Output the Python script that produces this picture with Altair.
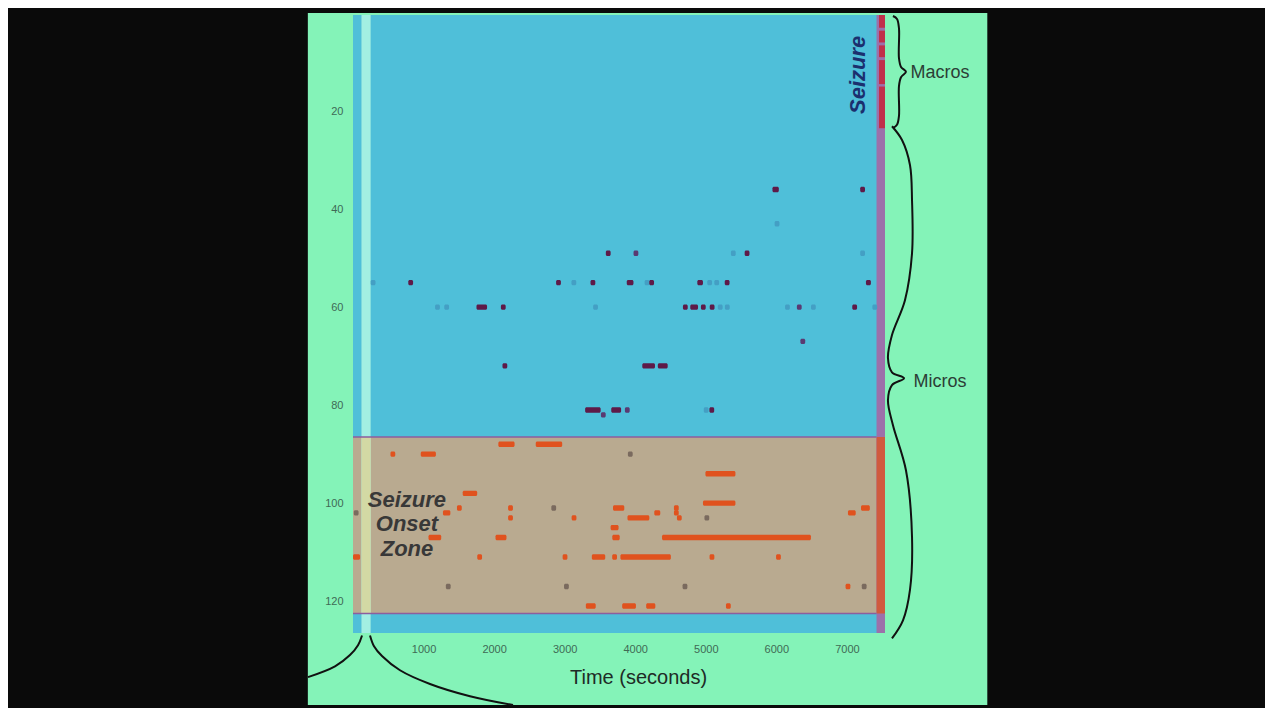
import altair as alt
import pandas as pd

# ---------------- axes ----------------
x_ticks = [1000, 2000, 3000, 4000, 5000, 6000, 7000]
y_ticks = [20, 40, 60, 80, 100, 120]
x_domain = [0, 7540]
y_domain = [0.4, 126.5]

# ---------------- events (channel, start s, end s, kind) ----------------
ev_ch = [
    36, 36, 43,
    49, 49, 49, 49, 49,
    55, 55, 55, 55, 55, 55, 55, 55, 55, 55, 55, 55, 55,
    60, 60, 60, 60, 60, 60, 60, 60, 60, 60, 60, 60, 60, 60, 60, 60,
    67, 72, 72, 72,
    81, 81, 81, 81, 81, 82,
    # seizure onset zone
    88, 88,
    90, 90, 90,
    94, 98, 100,
    101, 101, 101, 101, 101, 101,
    102, 102, 102, 102, 102,
    103, 103, 103, 103, 103,
    105, 105,
    107, 107, 107, 107,
    111, 111, 111, 111, 111, 111, 111, 111,
    117, 117, 117, 117, 117,
    121, 121, 121, 121,
]
ev_t0 = [
    5945, 7200, 5990,
    3595, 3985, 5370, 5565, 7200,
    265, 795, 2890, 3110, 3380, 3880, 4150, 4210, 4880, 5040, 5140, 5280, 7270,
    1180, 1310, 1750, 2110, 3420, 4690, 4780, 4945, 5070, 5190, 5290, 6140, 6305, 6510, 7090, 7380,
    6350, 2130, 4100, 4320,
    3290, 3660, 3870, 4990, 5060, 3530,
    2060, 2590,
    545, 960, 3910,
    4995, 1555, 4960,
    3685, 7200, 1490, 2215, 4555, 2830,
    1275, 4270, 7015, 4555, 30,
    2215, 3115, 3890, 5000, 4610,
    3670, 3715,
    1070, 2020, 3675, 4380,
    0, 1775, 2990, 3385, 3675, 3790, 5065, 6010,
    7000, 7230, 1335, 3010, 4690,
    3300, 3815, 4155, 5300,
]
ev_t1 = [
    6035, 7245, 6030,
    3640, 4035, 5410, 5605, 7245,
    305, 840, 2935, 3150, 3420, 3975, 4185, 4255, 4960, 5070, 5170, 5325, 7340,
    1215, 1345, 1900, 2150, 3455, 4730, 4890, 4985, 5110, 5220, 5320, 6175, 6345, 6540, 7130, 7410,
    6400, 2175, 4280, 4460,
    3510, 3800, 3905, 5020, 5110, 3565,
    2290, 2965,
    585, 1175, 3950,
    5420, 1760, 5420,
    3845, 7325, 1525, 2250, 4610, 2860,
    1380, 4355, 7125, 4610, 60,
    2250, 3150, 4200, 5030, 4640,
    3700, 3745,
    1250, 2175, 3780, 6490,
    100, 1815, 3020, 3575, 3740, 4505, 5110, 6050,
    7030, 7260, 1365, 3040, 4720,
    3440, 4010, 4285, 5340,
]
ev_kind = [
    "m", "m", "mf",
    "m", "mm", "mf", "m", "mf",
    "mf", "m", "m", "mf", "m", "m", "mf", "m", "m", "mf", "mf", "m", "m",
    "mf", "mf", "m", "m", "mf", "m", "m", "m", "m", "mf", "mf", "mf", "mm", "mf", "m", "mf",
    "mm", "m", "m", "m",
    "m", "m", "mm", "mf", "m", "mm",
    "s", "s",
    "s", "s", "sf",
    "s", "s", "s",
    "s", "s", "s", "s", "s", "sf",
    "s", "s", "s", "s", "sf",
    "s", "s", "s", "sf", "s",
    "s", "s",
    "s", "s", "s", "s",
    "s", "s", "s", "s", "s", "s", "s", "s",
    "s", "sf", "sf", "sf", "sf",
    "s", "s", "s", "s",
]

# ---------------- background regions ----------------
reg_t0 = [-640, 0, 0, 120, 120, 7420, 7455, 7455, 7455, 7455, 7455, 7420]
reg_t1 = [8990, 7540, 7540, 250, 250, 7540, 7540, 7540, 7540, 7540, 7540, 7540]
reg_c0 = [0.0, 0.4, 86.5, 0.4, 86.5, 0.4, 0.4, 3.6, 6.6, 9.6, 15.0, 86.5]
reg_c1 = [141.2, 126.5, 122.5, 126.5, 122.5, 126.5, 3.0, 6.0, 9.0, 14.5, 23.5, 122.5]
reg_col = ["#84f3b8", "#4fbfd9", "#b9aa90", "#a3efe2", "#d3d9a4",
           "#9c70aa", "#c0304a", "#c0304a", "#c0304a", "#c0304a", "#c0304a", "#d05a3e"]

# seizure onset zone borders
soz_edges = [86.5, 122.5]

# ---------------- annotation shapes (braces / zoom lines) ----------------
brace_t = [7653, 7710, 7738, 7738, 7767, 7837, 7767, 7738, 7738, 7710, 7653,
           7639, 7781, 7894, 7923, 7923, 7823, 7639, 7582, 7639, 7809, 7639, 7582, 7653, 7837, 7923, 7894, 7795, 7639,
           128, 71, -43, -255, -638,
           241, 298, 411, 666, 1091, 1658, 2268]
brace_c = [0.6, 1.2, 3.1, 9.2, 11.0, 12.0, 13.1, 14.9, 21.0, 22.8, 23.5,
           23.1, 25.9, 31.0, 38.2, 49.0, 58.6, 65.7, 70.4, 73.3, 74.5, 75.9, 79.0, 84.1, 93.3, 106.9, 117.7, 123.9, 127.6,
           127.0, 129.0, 131.0, 133.3, 135.5,
           127.0, 129.2, 131.2, 134.1, 136.9, 139.4, 141.2]
brace_g = [1] * 11 + [2] * 18 + [3] * 5 + [4] * 7

# ---------------- texts ----------------
txt = ["Seizure", "Onset", "Zone"]
txt_t = [765, 765, 765]
txt_c = [99.4, 104.2, 109.3]

side_txt = ["Macros", "Micros"]
side_t = [8320, 8320]
side_c = [12.2, 75.3]

# ---------------- build tables ----------------
ev = pd.DataFrame({"ch": ev_ch, "t0": ev_t0, "t1": ev_t1, "kind": ev_kind})
# make very short events visible as small dots (about 5 px wide)
mid = (ev["t0"] + ev["t1"]) / 2
half = ((ev["t1"] - ev["t0"]) / 2).clip(lower=34)
ev["x0"] = mid - half
ev["x1"] = mid + half
ev["c0"] = ev["ch"] - 0.55
ev["c1"] = ev["ch"] + 0.55
reg = pd.DataFrame({"t0": reg_t0, "t1": reg_t1, "c0": reg_c0, "c1": reg_c1, "col": reg_col})
br = pd.DataFrame({"t": brace_t, "c": brace_c, "g": brace_g})
br["o"] = range(len(br))

xs = alt.Scale(domain=x_domain, nice=False, zero=False)
ys = alt.Scale(domain=y_domain, nice=False, zero=False, reverse=True)
FONT = "Liberation Sans"
xaxis = alt.Axis(values=x_ticks, format="d", grid=False, ticks=False, domain=False, labelPadding=10,
                 labelFontSize=11, labelColor="#3f6a55", labelFont=FONT,
                 titleFontSize=20, titleFontWeight="normal", titleColor="#1e2b26",
                 titleFont=FONT, titlePadding=13, titleX=285, zindex=1)
yaxis = alt.Axis(values=y_ticks, grid=False, ticks=False, domain=False, labelPadding=10,
                 labelFontSize=11, labelColor="#3f6a55", labelFont=FONT, zindex=1)


def X(f):
    return alt.X(f, type="quantitative", scale=xs, axis=xaxis, title="Time (seconds)")


def Y(f):
    return alt.Y(f, type="quantitative", scale=ys, axis=yaxis, title=None)


regions = alt.Chart(reg).mark_rect(clip=False).encode(
    x=X("t0"), x2="t1", y=Y("c0"), y2="c1", color=alt.Color("col:N", scale=None)
)

events = alt.Chart(ev).mark_rect(cornerRadius=1.5).encode(
    x=X("x0"), x2="x1", y=Y("c0"), y2="c1",
    color=alt.Color("kind:N", legend=None,
                    scale=alt.Scale(domain=["m", "mm", "mf", "s", "sf"],
                                    range=["#5e1a48", "#5a3a72", "#449fc4", "#e0521e", "#7a6a5e"])),
)

edges = alt.Chart(pd.DataFrame({"c": soz_edges, "t0": [0, 0], "t1": [7420, 7420]})).mark_rule(
    color="#8c5e9e", strokeWidth=1.5
).encode(x=X("t0"), x2="t1", y=Y("c"))

braces = alt.Chart(br).mark_line(clip=False, interpolate="catmull-rom", color="#111111",
                                 strokeWidth=2).encode(
    x=X("t"), y=Y("c"), order="o:Q", detail="g:N"
)

soz_text = alt.Chart(pd.DataFrame({"t": txt_t, "c": txt_c, "s": txt})).mark_text(
    font=FONT, fontSize=22, fontWeight="bold", fontStyle="italic", color="#383838",
    align="center", baseline="middle"
).encode(x=X("t"), y=Y("c"), text="s:N")

seizure_text = alt.Chart(pd.DataFrame({"t": [7157], "c": [12.6], "s": ["Seizure"]})).mark_text(
    font=FONT, fontSize=22, fontWeight="bold", fontStyle="italic", color="#1b2f6e",
    angle=270, align="center", baseline="middle"
).encode(x=X("t"), y=Y("c"), text="s:N")

side_text = alt.Chart(pd.DataFrame({"t": side_t, "c": side_c, "s": side_txt})).mark_text(
    font=FONT, fontSize=18, color="#2c3e36", align="center", baseline="middle", clip=False
).encode(x=X("t"), y=Y("c"), text="s:N")

chart = alt.layer(regions, events, edges, soz_text, seizure_text, braces, side_text).properties(
    width=532, height=618,
    padding={"left": 345, "top": 7, "right": 380, "bottom": 75},
    autosize=alt.AutoSizeParams(type="none"),
    background="#0a0a0a",
).configure_view(stroke=None)

chart.save("out.html", embed_options={"renderer": "svg", "actions": False})
